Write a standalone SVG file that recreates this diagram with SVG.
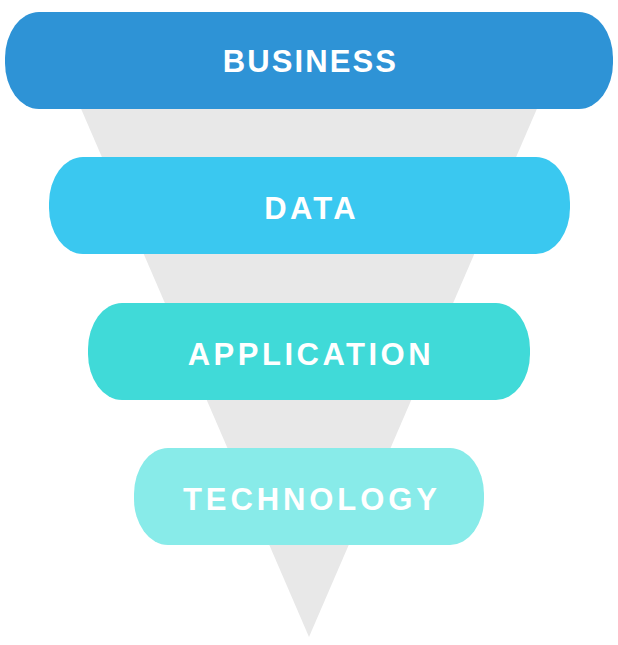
<svg xmlns="http://www.w3.org/2000/svg" width="618" height="645" viewBox="0 0 618 645">
  <style>
    .lbl { font-family: "Liberation Sans", Arial, sans-serif; font-weight: bold; font-size: 31px; fill: #ffffff; text-anchor: middle; }
  </style>
  <rect x="0" y="0" width="618" height="645" fill="#ffffff"/>
  <g id="funnel">
    <polygon points="60,60 558,60 309,637" fill="#e8e8e8"/>
  </g>
  <g id="connectors"></g>
  <g id="business">
    <rect x="5" y="12" width="608" height="97" rx="34" ry="46" fill="#2e93d6"/>
    <text class="lbl" x="310.4" y="72" letter-spacing="2.1">BUSINESS</text>
  </g>
  <g id="data">
    <rect x="49" y="157" width="521" height="97" rx="34" ry="46" fill="#3ac8f0"/>
    <text class="lbl" x="311.6" y="218.5" letter-spacing="3.3">DATA</text>
  </g>
  <g id="application">
    <rect x="88" y="303" width="442" height="97" rx="34" ry="46" fill="#40dad8"/>
    <text class="lbl" x="310.9" y="364.5" letter-spacing="3.5">APPLICATION</text>
  </g>
  <g id="technology">
    <rect x="134" y="448" width="350" height="97" rx="34" ry="46" fill="#88ebe9"/>
    <text class="lbl" x="311.9" y="509.5" letter-spacing="3.9">TECHNOLOGY</text>
  </g>
</svg>
